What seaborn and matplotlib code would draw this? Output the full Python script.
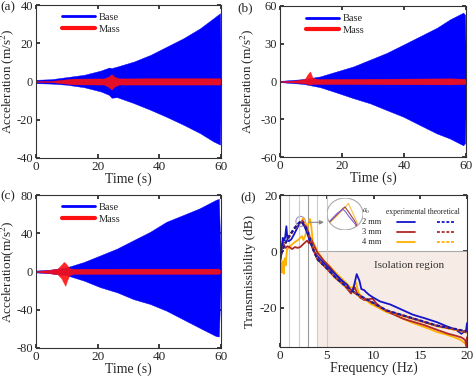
import numpy as np
import pandas as pd
import matplotlib
matplotlib.use("Agg")
import matplotlib.pyplot as plt
from matplotlib.patches import Ellipse
import seaborn as sns

# ---- time histories: envelopes (t in s, acceleration in m/s^2)
t_a = [0, 5, 10, 15.6, 21, 23.7, 24.5, 26.3, 31.7, 37.1, 42.5, 47.8, 53.2, 57.5, 59.7, 60]
base_a_up = [0.9, 1.2, 2.3, 3.5, 5.7, 7.3, 7.0, 7.8, 10.4, 13.9, 18.3, 22.6, 27.8, 33.0, 35.7, 0]
base_a_lo = [-0.9, -1.1, -1.7, -3.0, -5.2, -7.0, -8.5, -8.2, -11.3, -14.8, -18.6, -22.6, -27.0, -31.3, -33.0, 0]
tm_a = [0, 5, 8, 12, 22, 23.5, 24.5, 25.5, 27, 40, 59.7, 60]
mass_a_up = [0.2, 0.3, 0.8, 1.5, 1.6, 2.5, 3.8, 2.4, 1.6, 1.7, 1.7, 0]
mass_a_lo = [-0.2, -0.3, -0.8, -1.5, -1.6, -2.8, -4.2, -2.6, -1.6, -1.6, -1.6, 0]

t_b = [0, 7.5, 12.9, 18.3, 23.7, 29, 34.4, 39.8, 45.2, 50.6, 54.8, 59.1, 59.7, 60]
base_b_up = [0.5, 1.9, 4.0, 8.0, 12.0, 17.3, 22.7, 29.3, 36.0, 42.7, 49.3, 54.7, 53.0, 0]
base_b_lo = [-0.5, -1.9, -4.5, -8.8, -13.3, -17.3, -22.7, -28.0, -34.7, -41.3, -45.3, -50.7, -49.0, 0]
tm_b = [0, 5, 8, 9, 9.7, 10.5, 12, 20, 40, 55, 59.7, 60]
mass_b_up = [0.3, 0.8, 2.0, 6.0, 8.0, 3.0, 2.0, 2.0, 2.3, 2.5, 2.2, 0]
mass_b_lo = [-0.3, -0.8, -1.5, -2.0, -2.5, -2.0, -2.0, -2.0, -2.2, -2.3, -2.0, 0]

t_c = [0, 4.8, 10.2, 15.5, 20.9, 26.3, 31.6, 37, 42.3, 47.7, 53, 58.4, 59.3, 60]
base_c_up = [1.0, 2.0, 4.6, 9.9, 16.9, 24.0, 32.7, 41.5, 52.0, 59.0, 66.0, 75.0, 76.0, 0]
base_c_lo = [-1.0, -2.0, -4.2, -9.5, -16.5, -21.8, -28.9, -34.0, -41.0, -50.0, -58.8, -67.6, -68.0, 0]
tm_c = [0, 4, 7, 8.2, 9.0, 9.5, 10.0, 10.8, 12, 30, 59.3, 60]
mass_c_up = [0.5, 1.5, 3.0, 7.0, 10.0, 9.0, 7.0, 3.5, 2.8, 3.0, 3.0, 0]
mass_c_lo = [-0.5, -1.5, -3.0, -7.0, -12.0, -15.0, -10.0, -4.0, -2.5, -2.5, -2.5, 0]

# ---- transmissibility (Hz, dB)
f_2 = [0.0, 0.15, 0.3, 0.45, 0.55, 0.68, 0.8, 0.95, 1.2, 1.5, 1.8, 2.0, 2.2, 2.4, 2.6, 2.9, 3.2,
       3.6, 4.0, 4.7, 5.3, 6.1, 6.7, 7.2, 7.67, 7.9, 8.2, 8.5, 8.7, 9.0, 9.2, 9.5, 10.0, 10.7,
       11.8, 13.2, 14.2, 15.5, 16.8, 17.8, 18.8, 19.4, 19.9, 20.0]
exp_2 = [-4.0, -1.0, 4.8, 3.8, 5.0, 8.9, 4.0, 3.6, 4.2, 6.0, 8.0, 9.3, 10.3, 10.2, 9.0, 6.6, 3.5,
         0.2, -1.8, -4.2, -6.2, -8.7, -10.6, -12.0, -14.5, -12.5, -8.1, -10.5, -13.4, -13.8, -14.5,
         -15.4, -16.5, -17.8, -18.9, -21.0, -22.5, -23.8, -25.2, -26.6, -27.8, -29.3, -28.0, -25.5]
f_3 = [0.0, 0.15, 0.3, 0.45, 0.6, 0.8, 1.0, 1.3, 1.6, 1.9, 2.2, 2.5, 2.7, 2.9, 3.1, 3.3, 3.6,
       4.0, 4.7, 5.3, 6.1, 6.8, 7.3, 7.6, 8.0, 8.3, 8.6, 9.0, 9.5, 9.9, 10.3, 11.0, 12.0, 13.2,
       14.5, 15.5, 16.8, 18.0, 18.8, 19.4, 19.8, 19.95, 20.0]
exp_3 = [-4.0, 1.5, 3.6, 2.0, 1.2, 1.8, 1.5, 0.8, 1.5, 1.2, 1.6, 2.6, 3.2, 3.8, 2.8, 4.6, 2.2,
         -0.5, -3.4, -5.5, -8.7, -11.8, -13.8, -15.0, -12.8, -15.5, -16.5, -17.3, -17.0, -16.8,
         -18.5, -20.5, -22.2, -24.0, -25.3, -26.3, -27.9, -29.3, -30.0, -30.6, -31.5, -33.8, -30.5]
f_4 = [0.0, 0.1, 0.2, 0.3, 0.4, 0.5, 0.6, 0.75, 1.0, 1.3, 1.6, 2.0, 2.35, 2.5, 2.7, 2.95, 3.2,
       3.35, 3.5, 4.0, 4.7, 5.3, 6.1, 6.7, 7.2, 7.7, 8.1, 8.4, 8.9, 9.3, 9.7, 10.2, 11.4, 12.3,
       13.2, 14.0, 15.0, 16.0, 16.8, 17.8, 18.6, 19.2, 19.6, 20.0]
exp_4 = [-8.7, -4.0, -7.5, -3.5, -8.0, -2.5, -5.0, 0.7, 1.5, 2.5, 3.3, 4.2, 5.4, 4.0, 5.5, 8.9,
         11.5, 8.9, 3.6, 0.0, -3.4, -5.2, -8.1, -10.0, -11.6, -13.4, -11.0, -14.6, -16.9, -17.6,
         -18.7, -19.5, -21.6, -22.5, -24.0, -25.2, -26.4, -27.6, -28.7, -29.6, -30.5, -31.3,
         -32.2, -33.4]
f_th = [0.1, 0.5, 1.0, 1.5, 2.0, 2.25, 2.35, 2.5, 2.8, 3.0, 3.5, 4.0, 5.0, 6.0, 7.0, 8.0, 9.0,
        10.0, 11.4, 13.2, 15.0, 16.8, 18.6, 20.0]
th_2 = [-1.0, 2.5, 5.5, 8.0, 10.0, 10.7, 10.4, 9.6, 8.2, 6.5, 1.0, -2.8, -6.0, -9.5, -12.3,
        -14.7, -16.6, -18.4, -21.0, -22.8, -24.6, -26.4, -27.5, -28.5]
th_3 = [-1.0, 2.5, 5.4, 7.9, 9.8, 10.8, 11.1, 10.3, 8.6, 6.9, 1.2, -2.8, -6.1, -9.6, -12.4,
        -14.8, -16.7, -18.5, -21.1, -22.9, -24.7, -26.5, -27.7, -28.7]
th_4 = [-1.0, 2.4, 5.3, 7.8, 9.6, 10.6, 11.0, 11.7, 9.2, 7.4, 1.4, -2.8, -6.2, -9.7, -12.5,
        -14.9, -16.8, -18.6, -21.2, -23.0, -24.8, -26.6, -27.8, -28.9]
v_lines = [1, 2, 3, 4, 5]

sns.set_theme(style="ticks")
plt.rcParams["font.family"] = ["Liberation Serif", "DejaVu Serif"]
plt.rcParams["mathtext.fontset"] = "stix"
plt.rcParams["axes.unicode_minus"] = False
plt.rcParams["xtick.direction"] = "in"
plt.rcParams["ytick.direction"] = "in"
plt.rcParams["xtick.top"] = True
plt.rcParams["ytick.right"] = True
plt.rcParams["xtick.major.size"] = 3
plt.rcParams["ytick.major.size"] = 3
plt.rcParams["axes.linewidth"] = 0.8
plt.rcParams["axes.edgecolor"] = "#333333"

BLUE = "#0000ff"
RED = "#ff1010"
C2, C3, C4 = "#1515c8", "#b02828", "#ffb000"
W, H = 474, 379

fig = plt.figure(figsize=(4.74, 3.79), dpi=100)


def px_axes(x0, y0, x1, y1):
    return fig.add_axes([x0 / W, 1 - y1 / H, (x1 - x0) / W, (y1 - y0) / H])


def time_panel(ax, t, up, lo, tm, mup, mlo, lim, step, ylabel, lab_x):
    ax.fill_between(t, lo, up, color=BLUE, lw=0.3, edgecolor=BLUE, label="Base")
    ax.fill_between(tm, mlo, mup, color=RED, lw=0.3, edgecolor=RED, alpha=0.9, label="Mass")
    ax.set_xlim(0, 60)
    ax.set_ylim(-lim, lim)
    ax.set_xticks([0, 20, 40, 60])
    ax.set_yticks(np.arange(-lim, lim + 1, step))
    ax.tick_params(labelsize=9, pad=2)
    ax.tick_params(axis="x", labelsize=9.5)
    ax.set_xlabel("Time (s)", fontsize=10, labelpad=0)
    ax.set_ylabel(ylabel, fontsize=9.5)
    ax.yaxis.set_label_coords(lab_x, 0.5)
    h1 = plt.Line2D([], [], color=BLUE, lw=2)
    h2 = plt.Line2D([], [], color=RED, lw=3)
    ax.legend([h1, h2], ["Base", "Mass"], loc="upper left", bbox_to_anchor=(0.09, 1.01),
              frameon=False, fontsize=7.5, handlelength=3.2, handletextpad=0.3,
              labelspacing=0.25)


ax_a = px_axes(36, 5, 221, 158)
time_panel(ax_a, t_a, base_a_up, base_a_lo, tm_a, mass_a_up, mass_a_lo, 40, 20,
           "Acceleration (m/s$^2$)", -0.108)
ax_b = px_axes(280, 6, 466, 157)
time_panel(ax_b, t_b, base_b_up, base_b_lo, tm_b, mass_b_up, mass_b_lo, 60, 30,
           "Acceleration (m/s$^2$)", -0.128)
ax_c = px_axes(36, 195, 221, 348)
time_panel(ax_c, t_c, base_c_up, base_c_lo, tm_c, mass_c_up, mass_c_lo, 80, 40,
           "Acceleration(m/s$^2$)", -0.108)

# ---- panel (d)
ax_d = px_axes(280, 195, 467, 347)
ax_d.fill_between([4, 20], -34, 0, color="#f7ebe6", lw=0)
ax_d.plot([4, 20], [0, 0], color="#aaaaaa", lw=0.8)
for v in v_lines:
    ax_d.axvline(v, color="#999999" if v == 3 else "#cccccc", lw=0.8)

exp_df = pd.concat([
    pd.DataFrame({"f": f_4, "T": exp_4, "a0": "4 mm"}),
    pd.DataFrame({"f": f_3, "T": exp_3, "a0": "3 mm"}),
    pd.DataFrame({"f": f_2, "T": exp_2, "a0": "2 mm"}),
])
sns.lineplot(data=exp_df, x="f", y="T", hue="a0", sort=False, estimator=None,
             palette={"2 mm": C2, "3 mm": C3, "4 mm": C4}, lw=1.3, legend=False, ax=ax_d)
for vals, c in [(th_4, C4), (th_3, C3), (th_2, "#1a1aa0")]:
    ax_d.plot(f_th, vals, color=c, lw=1.6, ls=(0, (1.6, 1.0)))

ax_d.set_xlim(0, 20)
ax_d.set_ylim(-34, 20)
ax_d.set_xticks([0, 5, 10, 15, 20])
ax_d.set_yticks([-20, 0, 20])
ax_d.tick_params(labelsize=9.5, pad=2)
ax_d.set_xlabel("Frequency (Hz)", fontsize=10, labelpad=0)
ax_d.set_ylabel("Transmissibility (dB)", fontsize=9.5)
ax_d.yaxis.set_label_coords(-0.13, 0.5)
ax_d.text(0.69, 0.535, "Isolation region", transform=ax_d.transAxes, fontsize=8,
          ha="center", va="center", color="#333333")

# small circle at the peak and arrow to the magnified view
ax_d.add_patch(Ellipse((2.2, 10.6), 1.0, 3.6, fill=False, ec="#9a90c0", lw=0.8))
ax_d.annotate("", xy=(5.0, 10.3), xytext=(2.75, 10.3),
              arrowprops=dict(arrowstyle="-|>", color="#888888", lw=0.8, mutation_scale=6))

ins = ax_d.inset_axes([0.251, 0.77, 0.193, 0.21])
ins.set_axis_off()
ell = Ellipse((0.5, 0.5), 1, 1, transform=ins.transAxes, fill=False, ec="#aaaaaa", lw=0.8)
ins.add_patch(ell)
for vals, c in [(th_4, "#f5c040"), (th_3, "#a04040"), (th_2, "#8060e0")]:
    ln, = ins.plot(f_th, vals, color=c, lw=0.8)
    ln.set_clip_path(ell)
ins.set_xlim(1.55, 3.15)
ins.set_ylim(7.2, 12.6)

# legend table
tr = ax_d.transAxes
ax_d.text(0.44, 0.89, "$a_0$", transform=tr, fontsize=5.5, va="center")
ax_d.text(0.567, 0.89, "experimental theoretical", transform=tr, fontsize=5.5, va="center")
for yy, lab, c in [(0.82, "2 mm", C2), (0.757, "3 mm", C3), (0.691, "4 mm", C4)]:
    ax_d.text(0.44, yy, lab, transform=tr, fontsize=6, va="center")
    ax_d.plot([0.626, 0.722], [yy, yy], transform=tr, color=c, lw=1.3)
    ax_d.plot([0.84, 0.93], [yy, yy], transform=tr, color=c, lw=1.3, ls=(0, (1.6, 1.0)))

# panel letters
for x, y, s in [(0, 1, "(a)"), (237, 2, "(b)"), (0, 190, "(c)"), (240, 191, "(d)")]:
    fig.text(x / W, 1 - y / H, s, fontsize=9.5, ha="left", va="top")

fig.savefig("out.png", dpi=100)
